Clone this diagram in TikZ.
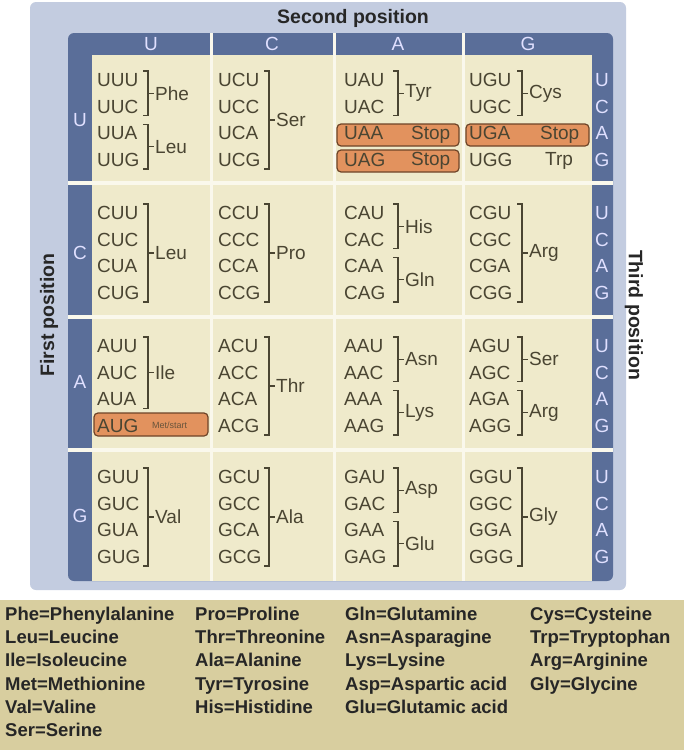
\documentclass[tikz,border=0pt]{standalone}
\usepackage{fontspec}
\setmainfont{Liberation Sans}
\begin{document}
\begin{tikzpicture}[x=1pt,y=-1pt,
  cod/.style={anchor=west,inner sep=0pt,text=txt,font=\fontsize{19}{19}\selectfont},
  aa/.style={anchor=west,inner sep=0pt,text=txt,font=\fontsize{19}{19}\selectfont},
  hdr/.style={text=white!88!blue,font=\fontsize{19}{19}\selectfont},
  ttl/.style={text=black!85,font=\bfseries\fontsize{19.5}{19.5}\selectfont},
  leg/.style={anchor=base west,inner sep=0pt,text=black!85,font=\bfseries\fontsize{18.5}{18.5}\selectfont},
  stopbox/.style={draw=stopedge,fill=stopfill,rounded corners=4pt,line width=1.2pt}]
\definecolor{txt}{HTML}{4A4532}
\definecolor{panel}{HTML}{C3CCE0}
\definecolor{band}{HTML}{5A6E99}
\definecolor{beige}{HTML}{EFEACB}
\definecolor{divl}{HTML}{FAF8EC}
\definecolor{stopfill}{HTML}{E2925E}
\definecolor{stopedge}{HTML}{6E4428}
\definecolor{legbg}{HTML}{D8CE9F}
\useasboundingbox (0,0) rectangle (684,750);
\fill[white] (0,0) rectangle (684,750);
\fill[panel,rounded corners=6pt] (30,2) rectangle (626,590);
\fill[band,rounded corners=6pt] (68,33) rectangle (613,581);
\fill[beige] (92,55) rectangle (592,581);
% dividers
\foreach \x in {210,333,462} \fill[divl] (\x,33) rectangle (\x+3,581);
\foreach \y in {181,315,448} \fill[divl] (68,\y) rectangle (613,\y+4);
\node[ttl] (t2) at (353,18) {Second position};
\node[ttl,rotate=90] (t1) at (49,315) {First position};
\node[ttl,rotate=-90] (t3) at (634,315) {Third position};
\foreach \c/\x in {U/151,C/272,A/398,G/528} \node[hdr] (h\c) at (\x,44) {\c};
\foreach \c/\y in {U/120,C/253,A/382,G/516} \node[hdr] (l\c) at (80,\y) {\c};
\foreach \r/\y in {1/80,2/213,3/346,4/477}{
  \foreach \c/\k in {U/0,C/1,A/2,G/3}
    \node[hdr] (r\r\c) at (602,\y+\k*26.7) {\c};}
% legend
\fill[legbg] (0,600) rectangle (684,750);
% stop boxes
\draw[stopbox] (337,124) rectangle (459,146);
\draw[stopbox] (337,150) rectangle (459,172);
\draw[stopbox] (466,124) rectangle (589,146);
\draw[stopbox] (94,413) rectangle (208,436);
% codons
\foreach \f/\y in {U/80,C/213,A/346,G/477}{
  \foreach \s/\x in {U/97,C/218,A/344,G/469}{
    \foreach \t/\k in {U/0,C/1,A/2,G/3}{
      \node[cod] (\f\s\t) at (\x,\y+\k*26.7) {\f\s\t};}}}
% stop labels
\node[aa] (sA) at (411,135) {Stop};
\node[aa] (sB) at (411,161) {Stop};
\node[aa] (sC) at (540,135) {Stop};
\node[aa] (trp) at (545,161) {Trp};
\node[anchor=west,inner sep=0pt,text=txt!80!stopfill,font=\fontsize{9}{9}\selectfont] (ms) at (152,425) {Met/start};
% brackets: \brk{x}{ytop}{ybot}{label}{name}
\newcommand\brk[5]{%
  \draw[txt,line width=1.3pt] (#1-5,#2-9) -- (#1,#2-9) -- (#1,#3+9) -- (#1-5,#3+9);
  \draw[txt,line width=1.3pt] (#1,{(#2+#3)/2}) -- (#1+6,{(#2+#3)/2});
  \node[aa] (#5) at (#1+7,{(#2+#3)/2}) {#4};}
% col U
\brk{148}{80}{106.7}{Phe}{phe}
\brk{148}{133.4}{160.1}{Leu}{leu1}
\brk{148}{213}{293.1}{Leu}{leu2}
\brk{148}{346}{399.4}{Ile}{ile}
\brk{148}{477}{557.1}{Val}{val}
% col C
\brk{269}{80}{160.1}{Ser}{ser1}
\brk{269}{213}{293.1}{Pro}{pro}
\brk{269}{346}{426.1}{Thr}{thr}
\brk{269}{477}{557.1}{Ala}{ala}
% col A
\brk{398}{80}{106.7}{Tyr}{tyr}
\brk{398}{213}{239.7}{His}{his}
\brk{398}{266.4}{293.1}{Gln}{gln}
\brk{398}{346}{372.7}{Asn}{asn}
\brk{398}{399.4}{426.1}{Lys}{lys}
\brk{398}{477}{503.7}{Asp}{asp}
\brk{398}{530.4}{557.1}{Glu}{glu}
% col G
\brk{522}{80}{106.7}{Cys}{cys}
\brk{522}{213}{293.1}{Arg}{arg1}
\brk{522}{346}{372.7}{Ser}{ser2}
\brk{522}{399.4}{426.1}{Arg}{arg2}
\brk{522}{477}{557.1}{Gly}{gly}
% legend text
\node[leg] (g1) at (5,620) {Phe=Phenylalanine};
\node[leg] (g2) at (5,643) {Leu=Leucine};
\node[leg] (g3) at (5,666) {Ile=Isoleucine};
\node[leg] (g4) at (5,690) {Met=Methionine};
\node[leg] (g5) at (5,713) {Val=Valine};
\node[leg] (g6) at (5,736) {Ser=Serine};
\node[leg] (g7) at (195,620) {Pro=Proline};
\node[leg] (g8) at (195,643) {Thr=Threonine};
\node[leg] (g9) at (195,666) {Ala=Alanine};
\node[leg] (g10) at (195,690) {Tyr=Tyrosine};
\node[leg] (g11) at (195,713) {His=Histidine};
\node[leg] (g12) at (345,620) {Gln=Glutamine};
\node[leg] (g13) at (345,643) {Asn=Asparagine};
\node[leg] (g14) at (345,666) {Lys=Lysine};
\node[leg] (g15) at (345,690) {Asp=Aspartic acid};
\node[leg] (g16) at (345,713) {Glu=Glutamic acid};
\node[leg] (g17) at (530,620) {Cys=Cysteine};
\node[leg] (g18) at (530,643) {Trp=Tryptophan};
\node[leg] (g19) at (530,666) {Arg=Arginine};
\node[leg] (g20) at (530,690) {Gly=Glycine};
\end{tikzpicture}
\end{document}
